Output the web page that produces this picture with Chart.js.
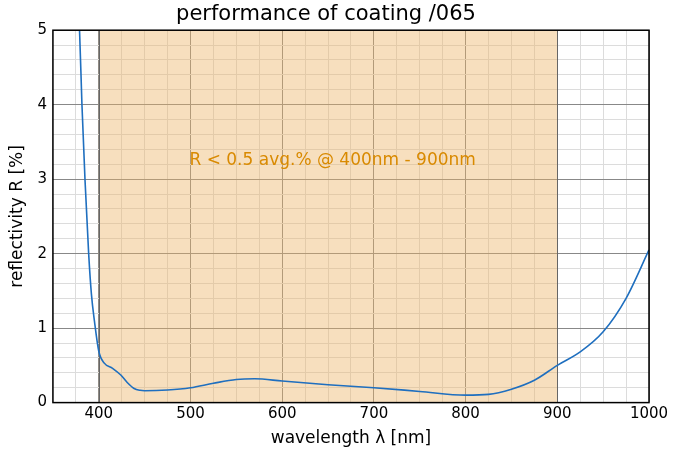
<!DOCTYPE html>
<html>
<head>
<script src="https://cdn.jsdelivr.net/npm/chart.js@4"></script>
<style>body{margin:0;background:#fff}#wrap{width:673px;height:457px}</style>
</head>
<body>
<div id="wrap"><canvas id="c"></canvas></div>
<script>
// data
const wavelength = [376, 379, 381.6, 385, 389, 392, 395.3, 400, 406, 415, 424, 431, 438.5, 445, 450, 475, 500, 525, 550, 570, 600, 650, 700, 750, 800, 825, 850, 875, 900, 925, 950, 975, 1000];
const reflectivity = [5.6, 5.0, 4.01, 2.98, 1.99, 1.45, 1.09, 0.69, 0.53, 0.46, 0.37, 0.27, 0.19, 0.165, 0.16, 0.17, 0.2, 0.26, 0.31, 0.32, 0.29, 0.24, 0.2, 0.15, 0.1, 0.11, 0.18, 0.3, 0.5, 0.68, 0.95, 1.4, 2.05];
const bandStart = 400, bandEnd = 900;
const bandLabel = "R < 0.5 avg.% @ 400nm - 900nm";

const points = wavelength.map((w, i) => ({x: w, y: reflectivity[i]}));

const band = {
  id: 'band',
  beforeDatasetsDraw(chart) {
    const {ctx, chartArea: a, scales: {x, y}} = chart;
    ctx.save();
    ctx.fillStyle = 'rgba(236,178,100,0.42)';
    ctx.fillRect(x.getPixelForValue(bandStart), a.top, x.getPixelForValue(bandEnd) - x.getPixelForValue(bandStart), a.bottom - a.top);
    ctx.strokeStyle = '#666'; ctx.lineWidth = 1;
    [bandStart, bandEnd].forEach(v => {
      const px = Math.round(x.getPixelForValue(v)) + 0.5;
      ctx.beginPath(); ctx.moveTo(px, a.top); ctx.lineTo(px, a.bottom); ctx.stroke();
    });
    ctx.fillStyle = '#d98a00';
    ctx.font = '17px "DejaVu Sans"';
    ctx.textAlign = 'center'; ctx.textBaseline = 'middle';
    ctx.fillText(bandLabel, x.getPixelForValue(655), y.getPixelForValue(3.25));
    ctx.restore();
  },
  afterDraw(chart) {
    const {ctx, chartArea: a} = chart;
    ctx.save(); ctx.strokeStyle = '#000'; ctx.lineWidth = 1.5;
    ctx.strokeRect(a.left, a.top, a.right - a.left, a.bottom - a.top);
    ctx.restore();
  }
};

const font = {family: 'DejaVu Sans', size: 15};
new Chart(document.getElementById('c'), {
  type: 'line',
  data: {datasets: [{data: points, borderColor: '#1f6fbf', borderWidth: 1.6, pointRadius: 0, tension: 0.4, cubicInterpolationMode: 'monotone', fill: false}]},
  options: {
    responsive: true, maintainAspectRatio: false, animation: false,
    layout: {padding: {right: 24, top: 0, left: 3, bottom: 4}},
    plugins: {
      legend: {display: false},
      title: {display: true, text: 'performance of coating /065', color: '#000', font: {family: 'DejaVu Sans', size: 21, weight: 'normal'}, padding: {top: 2, bottom: 3}}
    },
    scales: {
      x: {
        type: 'linear', min: 350, max: 1000,
        ticks: {stepSize: 25, autoSkip: false, maxRotation: 0, color: '#000', font,
          callback: v => (v % 100 === 0 && v > 350) ? v : ''},
        grid: {drawTicks: false, color: c => c.tick.value % 100 === 0 ? '#888' : '#dcdcdc'},
        title: {display: true, text: 'wavelength λ [nm]', color: '#000', font: {family: 'DejaVu Sans', size: 17}, padding: {top: 2}}
      },
      y: {
        min: 0, max: 5,
        ticks: {stepSize: 0.2, autoSkip: false, color: '#000', font, padding: 6,
          callback: v => Math.abs(v - Math.round(v)) < 1e-6 ? Math.round(v) : ''},
        grid: {drawTicks: false, color: c => Math.abs(c.tick.value - Math.round(c.tick.value)) < 1e-6 ? '#888' : '#dcdcdc'},
        title: {display: true, text: 'reflectivity R [%]', color: '#000', font: {family: 'DejaVu Sans', size: 17}}
      }
    }
  },
  plugins: [band]
});
</script>
</body>
</html>
